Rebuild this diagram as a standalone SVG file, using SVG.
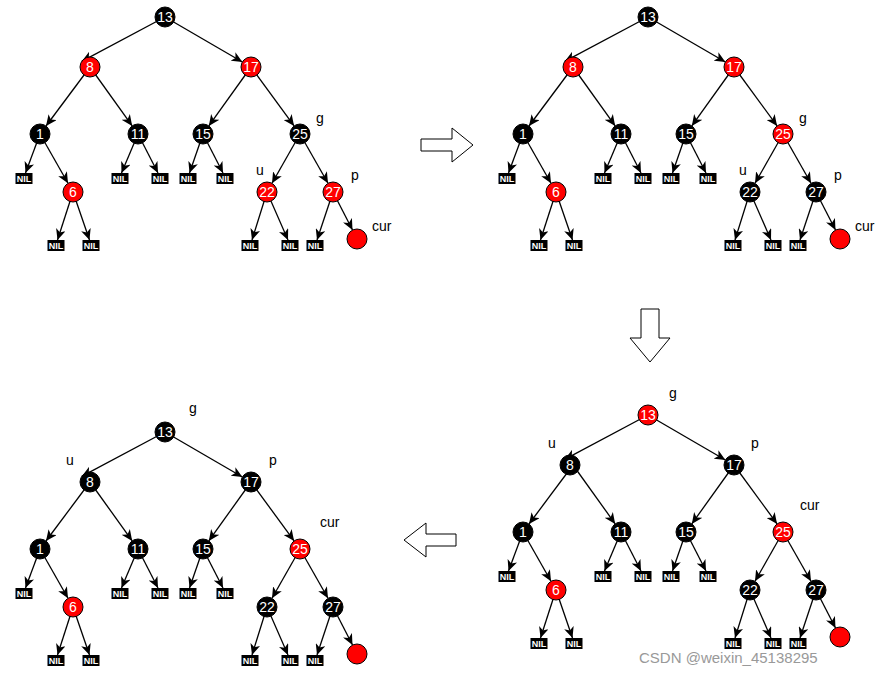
<svg xmlns="http://www.w3.org/2000/svg" width="885" height="675" viewBox="0 0 885 675">
<style>
.e{stroke:#000;stroke-width:1.3;fill:none;marker-end:url(#ah)}
.B{fill:#000;stroke:#000}
.R{fill:#f00;stroke:#000}
.t{fill:#fff;font-family:"Liberation Sans",Arial,sans-serif;font-size:14px;text-anchor:middle}
.nb{fill:#000}
.nt{fill:#fff;font-family:"Liberation Sans",Arial,sans-serif;font-size:9px;font-weight:bold;text-anchor:middle}
.lb{fill:#000;font-family:"Liberation Sans",Arial,sans-serif;font-size:14px}
.blk{fill:#fff;stroke:#000;stroke-width:1}
</style>
<defs>
<marker id="ah" markerUnits="userSpaceOnUse" markerWidth="12" markerHeight="10" refX="11" refY="5" orient="auto">
<path d="M0,0 L11,5 L0,10 L3,5 z" fill="#000"/>
</marker>
<g id="edges">
<line class="e" x1="165" y1="17" x2="81.7" y2="61.4"/>
<line class="e" x1="165" y1="17" x2="242.4" y2="62"/>
<line class="e" x1="90" y1="67" x2="46" y2="126"/>
<line class="e" x1="90" y1="67" x2="132.2" y2="125.9"/>
<line class="e" x1="251" y1="67" x2="208.8" y2="125.9"/>
<line class="e" x1="251" y1="67" x2="294.1" y2="125.9"/>
<line class="e" x1="40" y1="134" x2="25.5" y2="173"/>
<line class="e" x1="40" y1="134" x2="68" y2="183.3"/>
<line class="e" x1="138" y1="134" x2="121.5" y2="173"/>
<line class="e" x1="138" y1="134" x2="158" y2="173"/>
<line class="e" x1="203" y1="134" x2="189.5" y2="173"/>
<line class="e" x1="203" y1="134" x2="223" y2="173"/>
<line class="e" x1="300" y1="134" x2="272" y2="183.3"/>
<line class="e" x1="300" y1="134" x2="328" y2="183.3"/>
<line class="e" x1="73" y1="192" x2="57.5" y2="240"/>
<line class="e" x1="73" y1="192" x2="89.5" y2="240"/>
<line class="e" x1="267" y1="192" x2="252" y2="240"/>
<line class="e" x1="267" y1="192" x2="288" y2="240"/>
<line class="e" x1="333" y1="192" x2="317" y2="240"/>
<line class="e" x1="333" y1="192" x2="352.5" y2="230"/>
</g>
<g id="nils">
<g><rect class="nb" x="15.5" y="173" width="17" height="11"/><text class="nt" x="24" y="182">NIL</text></g>
<g><rect class="nb" x="111.5" y="173" width="17" height="11"/><text class="nt" x="120" y="182">NIL</text></g>
<g><rect class="nb" x="151.5" y="173" width="17" height="11"/><text class="nt" x="160" y="182">NIL</text></g>
<g><rect class="nb" x="179.5" y="173" width="17" height="11"/><text class="nt" x="188" y="182">NIL</text></g>
<g><rect class="nb" x="216.5" y="173" width="17" height="11"/><text class="nt" x="225" y="182">NIL</text></g>
<g><rect class="nb" x="47.5" y="240" width="17" height="11"/><text class="nt" x="56" y="249">NIL</text></g>
<g><rect class="nb" x="82.5" y="240" width="17" height="11"/><text class="nt" x="91" y="249">NIL</text></g>
<g><rect class="nb" x="241.5" y="240" width="17" height="11"/><text class="nt" x="250" y="249">NIL</text></g>
<g><rect class="nb" x="281.5" y="240" width="17" height="11"/><text class="nt" x="290" y="249">NIL</text></g>
<g><rect class="nb" x="306.5" y="240" width="17" height="11"/><text class="nt" x="315" y="249">NIL</text></g>
</g>
</defs>

<g id="connectors">
<use href="#edges"/>
<use href="#edges" transform="translate(483,0)"/>
<use href="#edges" transform="translate(483,398)"/>
<use href="#edges" transform="translate(0,415)"/>
</g>

<!-- Tree 1 -->
<g id="tree1">
<use href="#nils"/>
<g id="t1n13"><circle class="B" cx="165" cy="17" r="10"/><text class="t" x="165" y="22">13</text></g>
<g id="t1n8"><circle class="R" cx="90" cy="67" r="10"/><text class="t" x="90" y="72">8</text></g>
<g id="t1n17"><circle class="R" cx="251" cy="67" r="10"/><text class="t" x="251" y="72">17</text></g>
<g id="t1n1"><circle class="B" cx="40" cy="134" r="10"/><text class="t" x="40" y="139">1</text></g>
<g id="t1n11"><circle class="B" cx="138" cy="134" r="10"/><text class="t" x="138" y="139">11</text></g>
<g id="t1n15"><circle class="B" cx="203" cy="134" r="10"/><text class="t" x="203" y="139">15</text></g>
<g id="t1n25"><circle class="B" cx="300" cy="134" r="10"/><text class="t" x="300" y="139">25</text></g>
<g id="t1n6"><circle class="R" cx="73" cy="192" r="10"/><text class="t" x="73" y="197">6</text></g>
<g id="t1n22"><circle class="R" cx="267" cy="192" r="10"/><text class="t" x="267" y="197">22</text></g>
<g id="t1n27"><circle class="R" cx="333" cy="192" r="10"/><text class="t" x="333" y="197">27</text></g>
<g id="t1cur"><circle class="R" cx="357" cy="239" r="10"/></g>
<text class="lb" x="316" y="123">g</text>
<text class="lb" x="256" y="175">u</text>
<text class="lb" x="351" y="180">p</text>
<text class="lb" x="372" y="231">cur</text>
</g>

<!-- Tree 2 -->
<g id="tree2" transform="translate(483,0)">
<use href="#nils"/>
<g id="t2n13"><circle class="B" cx="165" cy="17" r="10"/><text class="t" x="165" y="22">13</text></g>
<g id="t2n8"><circle class="R" cx="90" cy="67" r="10"/><text class="t" x="90" y="72">8</text></g>
<g id="t2n17"><circle class="R" cx="251" cy="67" r="10"/><text class="t" x="251" y="72">17</text></g>
<g id="t2n1"><circle class="B" cx="40" cy="134" r="10"/><text class="t" x="40" y="139">1</text></g>
<g id="t2n11"><circle class="B" cx="138" cy="134" r="10"/><text class="t" x="138" y="139">11</text></g>
<g id="t2n15"><circle class="B" cx="203" cy="134" r="10"/><text class="t" x="203" y="139">15</text></g>
<g id="t2n25"><circle class="R" cx="300" cy="134" r="10"/><text class="t" x="300" y="139">25</text></g>
<g id="t2n6"><circle class="R" cx="73" cy="192" r="10"/><text class="t" x="73" y="197">6</text></g>
<g id="t2n22"><circle class="B" cx="267" cy="192" r="10"/><text class="t" x="267" y="197">22</text></g>
<g id="t2n27"><circle class="B" cx="333" cy="192" r="10"/><text class="t" x="333" y="197">27</text></g>
<g id="t2cur"><circle class="R" cx="357" cy="239" r="10"/></g>
<text class="lb" x="316" y="123">g</text>
<text class="lb" x="256" y="175">u</text>
<text class="lb" x="351" y="180">p</text>
<text class="lb" x="372" y="231">cur</text>
</g>

<!-- Tree 3 -->
<g id="tree3" transform="translate(483,398)">
<use href="#nils"/>
<g id="t3n13"><circle class="R" cx="165" cy="17" r="10"/><text class="t" x="165" y="22">13</text></g>
<g id="t3n8"><circle class="B" cx="87" cy="67" r="10"/><text class="t" x="87" y="72">8</text></g>
<g id="t3n17"><circle class="B" cx="251" cy="67" r="10"/><text class="t" x="251" y="72">17</text></g>
<g id="t3n1"><circle class="B" cx="40" cy="134" r="10"/><text class="t" x="40" y="139">1</text></g>
<g id="t3n11"><circle class="B" cx="138" cy="134" r="10"/><text class="t" x="138" y="139">11</text></g>
<g id="t3n15"><circle class="B" cx="203" cy="134" r="10"/><text class="t" x="203" y="139">15</text></g>
<g id="t3n25"><circle class="R" cx="300" cy="134" r="10"/><text class="t" x="300" y="139">25</text></g>
<g id="t3n6"><circle class="R" cx="73" cy="192" r="10"/><text class="t" x="73" y="197">6</text></g>
<g id="t3n22"><circle class="B" cx="267" cy="192" r="10"/><text class="t" x="267" y="197">22</text></g>
<g id="t3n27"><circle class="B" cx="333" cy="192" r="10"/><text class="t" x="333" y="197">27</text></g>
<g id="t3cur"><circle class="R" cx="357" cy="239" r="10"/></g>
<text class="lb" x="186" y="0">g</text>
<text class="lb" x="65" y="50">u</text>
<text class="lb" x="268" y="50">p</text>
<text class="lb" x="317" y="112">cur</text>
</g>

<!-- Tree 4 -->
<g id="tree4" transform="translate(0,415)">
<use href="#nils"/>
<g id="t4n13"><circle class="B" cx="165" cy="17" r="10"/><text class="t" x="165" y="22">13</text></g>
<g id="t4n8"><circle class="B" cx="90" cy="67" r="10"/><text class="t" x="90" y="72">8</text></g>
<g id="t4n17"><circle class="B" cx="251" cy="67" r="10"/><text class="t" x="251" y="72">17</text></g>
<g id="t4n1"><circle class="B" cx="40" cy="134" r="10"/><text class="t" x="40" y="139">1</text></g>
<g id="t4n11"><circle class="B" cx="138" cy="134" r="10"/><text class="t" x="138" y="139">11</text></g>
<g id="t4n15"><circle class="B" cx="203" cy="134" r="10"/><text class="t" x="203" y="139">15</text></g>
<g id="t4n25"><circle class="R" cx="300" cy="134" r="10"/><text class="t" x="300" y="139">25</text></g>
<g id="t4n6"><circle class="R" cx="73" cy="192" r="10"/><text class="t" x="73" y="197">6</text></g>
<g id="t4n22"><circle class="B" cx="267" cy="192" r="10"/><text class="t" x="267" y="197">22</text></g>
<g id="t4n27"><circle class="B" cx="333" cy="192" r="10"/><text class="t" x="333" y="197">27</text></g>
<g id="t4cur"><circle class="R" cx="357" cy="239" r="10"/></g>
<text class="lb" x="189" y="-2">g</text>
<text class="lb" x="66" y="50">u</text>
<text class="lb" x="269" y="50">p</text>
<text class="lb" x="320" y="112">cur</text>
</g>

<!-- block arrows -->
<path id="arrowRight" class="blk" d="M421,139 L452,139 L452,128 L473,145 L452,162 L452,151 L421,151 Z"/>
<path id="arrowDown" class="blk" d="M641,309 L659,309 L659,338 L670,338 L650,362 L630,338 L641,338 Z"/>
<path id="arrowLeft" class="blk" d="M456,534 L426,534 L426,523 L404,540 L426,557 L426,546 L456,546 Z"/>

<text x="639" y="663" style="fill:#999;font-family:'Liberation Sans',Arial,sans-serif;font-size:15px">CSDN @weixin_45138295</text>
</svg>
